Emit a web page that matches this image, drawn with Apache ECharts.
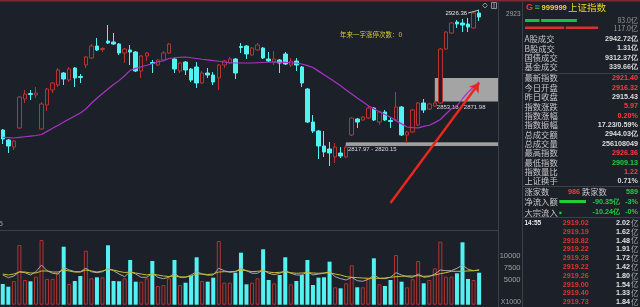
<!DOCTYPE html>
<html><head><meta charset="utf-8">
<script src="https://cdn.jsdelivr.net/npm/echarts@6/dist/echarts.min.js"></script>
<style>html,body{margin:0;padding:0;background:#1c2029;overflow:hidden}#c{width:640px;height:307px}</style>
</head><body><div id="c"></div>
<script>
// ---------- data ----------
const categories = Array.from({length: 90}, (_, i) => 'K' + (i + 1));
// [open, close, low, high]
const candles = [
[2830.4,2823.2,2819.2,2831.2],[2822.4,2817.6,2812.0,2823.2],[2816.8,2821.6,2814.4,2822.4],[2832.0,2856.8,2831.2,2857.6],
[2855.2,2859.2,2852.0,2862.4],[2859.6,2858.8,2854.4,2862.4],[2858.4,2860.0,2856.0,2864.8],[2831.2,2851.2,2830.4,2852.8],
[2850.4,2863.2,2845.6,2864.0],[2862.4,2868.0,2860.0,2868.8],[2866.4,2878.4,2864.8,2880.0],[2876.0,2871.2,2866.4,2876.8],
[2870.4,2879.2,2868.8,2880.8],[2880.0,2872.0,2864.8,2880.8],[2873.2,2872.4,2868.0,2875.2],[2882.4,2888.8,2880.0,2889.6],
[2888.0,2897.6,2887.2,2899.2],[2897.6,2894.4,2893.6,2904.0],[2894.8,2895.6,2892.8,2896.8],[2901.6,2900.0,2899.2,2914.4],
[2900.8,2899.2,2898.4,2908.0],[2899.2,2892.0,2890.4,2900.0],[2892.0,2895.2,2884.0,2896.0],[2894.4,2892.8,2882.4,2898.4],
[2892.8,2877.6,2876.8,2893.6],[2877.6,2889.6,2872.0,2890.4],[2889.6,2892.0,2885.6,2892.8],[2884.4,2883.6,2876.0,2886.4],
[2882.4,2886.4,2881.6,2887.2],[2886.4,2892.0,2885.6,2893.6],[2892.0,2899.2,2891.2,2900.0],[2887.2,2879.2,2876.0,2888.0],
[2877.6,2884.0,2876.0,2884.8],[2884.8,2878.4,2874.4,2885.6],[2879.2,2870.4,2868.8,2880.0],[2880.8,2868.0,2864.0,2884.8],
[2868.0,2876.0,2867.2,2877.6],[2876.0,2874.4,2872.0,2880.0],[2874.4,2868.8,2866.4,2876.8],[2872.0,2882.4,2862.4,2883.2],
[2882.4,2885.6,2880.0,2886.4],[2884.0,2887.2,2883.2,2888.8],[2887.2,2876.0,2871.2,2888.0],[2897.2,2896.4,2892.0,2900.0],
[2897.6,2891.2,2887.2,2898.4],[2890.4,2896.0,2889.6,2896.8],[2894.4,2898.4,2893.6,2900.0],[2896.0,2888.0,2887.2,2896.8],
[2887.2,2885.6,2884.8,2892.8],[2884.8,2887.2,2882.4,2893.6],[2886.4,2884.0,2876.0,2887.2],[2891.2,2883.2,2882.4,2892.8],
[2882.4,2885.6,2880.8,2888.0],[2885.6,2882.4,2877.6,2888.0],[2880.8,2868.0,2864.8,2881.6],[2863.2,2836.8,2836.0,2864.0],
[2836.8,2829.6,2828.0,2842.4],[2829.6,2817.6,2807.2,2830.4],[2817.6,2812.8,2808.8,2829.6],[2815.2,2812.0,2801.6,2820.8],
[2808.8,2816.8,2804.0,2820.0],[2812.0,2809.6,2808.0,2816.8],[2808.8,2816.8,2808.0,2818.4],[2826.4,2840.0,2825.6,2840.8],
[2839.2,2836.8,2832.0,2840.0],[2838.4,2840.8,2837.6,2841.6],[2840.0,2848.0,2839.2,2849.6],[2848.0,2838.4,2837.6,2848.8],
[2836.8,2844.8,2834.4,2845.6],[2844.8,2838.4,2837.6,2846.4],[2838.0,2837.2,2832.0,2840.0],[2838.4,2848.8,2837.6,2860.8],
[2848.8,2826.4,2825.6,2849.6],[2826.4,2828.8,2820.0,2829.6],[2828.8,2846.4,2828.0,2847.2],[2834.4,2852.0,2833.6,2852.8],
[2852.0,2846.4,2844.0,2855.2],[2847.2,2851.2,2846.4,2852.0],[2849.6,2852.0,2848.8,2853.6],[2852.0,2895.2,2851.2,2896.0],
[2895.2,2908.8,2894.4,2909.6],[2908.0,2916.0,2907.2,2916.8],[2916.8,2915.2,2912.0,2918.4],[2916.0,2914.4,2908.8,2919.2],
[2915.2,2912.8,2908.8,2920.0],[2912.0,2924.0,2911.2,2924.8],[2924.0,2920.8,2917.6,2926.36]
];
const priceMA = [
2824.6,2824.3,2824.0,2824.5,2825.0,2825.5,2826.0,2826.8,2829.3,2831.8,
2834.2,2836.8,2839.2,2841.6,2844.0,2847.2,2851.8,2855.8,2859.6,2863.2,
2866.8,2869.9,2873.8,2878.1,2879.7,2881.0,2882.2,2883.4,2884.9,2885.8,
2887.6,2888.2,2888.6,2888.8,2888.2,2887.6,2887.0,2886.5,2885.9,2885.4,
2884.8,2884.2,2884.0,2884.0,2884.0,2884.0,2884.2,2884.4,2884.6,2884.8,
2884.6,2884.5,2884.2,2884.0,2883.2,2881.9,2880.4,2877.5,2874.6,2871.8,
2868.8,2865.8,2862.4,2859.2,2856.0,2853.0,2849.8,2847.3,2845.0,2842.8,
2840.6,2837.9,2835.3,2832.8,2832.3,2832.1,2833.3,2834.2,2836.3,2838.8,
2843.2,2847.4,2849.8,2855.4,2860.6,2864.8,2868.8];
const volumes = [
4240,3690,4860,12240,5060,4800,5740,13260,5270,5270,
6440,11890,4240,4860,5880,11070,5410,5620,5620,12180,
4860,4800,5410,9160,4720,4720,5410,8960,3830,4040,
5410,9160,4040,4510,5880,9720,4860,4720,5540,13060,
4510,4510,6560,10660,4180,4510,5410,11360,5060,4390,
6090,9720,4180,4860,6090,9160,4040,5540,5620,8820,
3570,3360,4390,8080,3570,3570,5410,9510,4180,3830,
5060,10190,4720,3570,5210,8960,4390,5060,7460,12920,
5740,5740,6440,12790,5270,5060,6560];
const volMAShort = [
6090,5540,5880,6770,6560,6090,6770,8140,6970,6440,
6290,7670,7110,6770,6770,7460,6770,6560,6770,7460,
6970,6290,5740,6770,6290,5620,5620,6440,5620,5330,
5620,6440,5620,5620,6090,6770,6290,6030,6090,7460,
6970,6640,6770,7460,6970,6440,6440,7110,6440,6150,
6440,6970,6440,6090,6090,6770,6090,6290,6440,6770,
5740,5330,5060,5620,4920,4800,5210,6090,5410,5330,
5620,6560,6090,5740,5620,6290,5620,5740,6290,7110,
6970,6970,7460,8140,7260,6970,7110];
const volMALong = [
6290,6090,6290,6700,6700,6500,6500,6910,6910,6700,
6700,7110,6910,6700,6700,7110,6910,6700,6910,7220,
7110,6810,6600,6700,6500,6290,6090,6290,6090,5880,
5780,5880,5680,5680,5880,6290,6290,6190,6290,6700,
6770,6770,6850,7110,6970,6770,6850,6970,6700,6560,
6640,6770,6560,6440,6500,6560,6500,6440,6500,6560,
6290,6090,5740,5620,5540,5470,5410,5410,5410,5470,
5620,5740,5820,5880,5880,5950,5820,5880,6090,6360,
6560,6850,6850,6850,6910,6970,7110];
const priceTicks = [2923];
const volTicks = [5000, 7500, 10000];
const volUnit = 'X1000';
const upperZone = [2853.18, 2871.98];
const lowerZone = [2817.97, 2820.15];
const highMark = 2926.36;
const arrowFrom = [70, 2772.0];
const arrowTo = [86, 2868.0];
const noteText = '年来一字涨停次数：0';

const title = {code: '999999', name: '上证指数'};
const buySell = [83.0, 117.0];
const panelLabels = ['A股成交','B股成交','国债成交','基金成交','最新指数','今日开盘','昨日收盘','指数涨跌','指数涨幅','指数振幅','总成交额','总成交量','最高指数','最低指数','指数量比','上证换手'];
const panelValues = ['2942.72亿','1.31亿','9312.37亿','339.66亿','2921.40','2916.32','2915.43','5.97','0.20%','17.23/0.59%','2944.03亿','256108049','2926.36','2909.13','1.22','0.71%'];
const panelTones = ['n','n','n','n','u','u','n','u','u','n','n','n','u','d','u','n'];
const advDecl = [986, 589];
const flows = [['净流入额','-90.35亿','-3%'],['大宗流入','-10.24亿','-0%']];
const tickTime = '14:55';
const tickPrices = [2919.02,2919.19,2918.82,2919.22,2919.28,2919.22,2919.26,2919.00,2919.40,2919.73];
const tickAmounts = [2.02,1.62,1.48,1.91,1.72,1.42,1.80,1.54,1.33,1.84];

// ---------- styles ----------
const BG = '#1c2029', RED = '#b83232', CYAN = '#52f2f2', LINE = '#3a3f4a';
const UPC = '#ff3c3c', DNC = '#22cc44', TXT = '#dcdcdc', LBL = '#c8c8c8';
const CJK = '"Noto Sans CJK SC", sans-serif';
const NUM = '"Liberation Sans", Arial, sans-serif';

const chart = echarts.init(document.getElementById('c'), null, {renderer: 'canvas'});
const gridLeft = -1, gridW = 499.5;

const volData = volumes.map((v, i) => {
  const up = candles[i][1] >= candles[i][0];
  return {value: v, itemStyle: up ? {color: BG, borderColor: RED, borderWidth: 1} : {color: CYAN}};
});

// graphic decorations / panel
const g = [];
function txt(x, y, s, fill, font, align) {
  g.push({type: 'text', silent: true, z: 50, style: {x, y, text: s, fill, font, align: align || 'left', verticalAlign: 'middle', textAlign: align || 'left', textVerticalAlign: 'middle'}});
}
function rect(x, y, w, h, fill, stroke) {
  g.push({type: 'rect', silent: true, z: 40, shape: {x, y, width: w, height: h}, style: stroke ? {fill: 'none', stroke, lineWidth: 1} : {fill}});
}
function line(x1, y1, x2, y2, c, w) {
  g.push({type: 'line', silent: true, z: 40, shape: {x1, y1, x2, y2}, style: {stroke: c, lineWidth: w || 1}});
}
rect(0, 0, 640, 1.6, '#7a2c30');
line(498.5, 1.6, 498.5, 307, LINE);
line(522.5, 1.6, 522.5, 307, LINE);
line(0, 230.5, 498, 230.5, LINE);
line(523, 73.5, 640, 73.5, LINE);
line(523, 186.5, 640, 186.5, LINE);
line(523, 217.5, 640, 217.5, LINE);
// small icons at chart top-right
g.push({type: 'polygon', silent: true, z: 40, shape: {points: [[485, 3], [487.5, 5.5], [485, 8], [482.5, 5.5]]}, style: {fill: 'none', stroke: '#8a8f99', lineWidth: 1}});
rect(491.5, 2.5, 5, 6, null, '#8a8f99');
line(494, 2.5, 494, 8.5, '#8a8f99');
// note
txt(340, 35, noteText, '#d6cc2a', '6.5px ' + CJK);
txt(-1, 224, '5', '#a0a0a0', '7px ' + NUM);
txt(521, 302, volUnit, '#a0a0a0', '7px ' + NUM, 'right');
// title
txt(526, 7.5, 'G', '#ff3030', 'bold 9px ' + NUM);
txt(534.5, 7.5, '≡', '#48c050', 'bold 9px ' + NUM);
txt(541.5, 7.5, title.code, '#e8d820', 'bold 7.6px ' + NUM);
txt(568, 7.5, title.name, '#e8d820', '9.5px ' + CJK);
// buy/sell bars (length proportional to value)
const k = 0.625;
const gl = buySell[0] * k, rl = buySell[1] * k;
rect(525, 19, gl * 0.28, 3, '#1fbf3a'); rect(525 + gl * 0.28 + 1.6, 19, gl * 0.72 - 1.6, 3, '#1fbf3a');
rect(525, 26.5, rl * 0.535, 2.6, '#d83030'); rect(525 + rl * 0.535 + 1.6, 26.5, rl * 0.465 - 1.6, 2.6, '#d83030');
txt(638, 20, buySell[0].toFixed(1) + '亿', '#9a9a9a', '7px ' + CJK, 'right');
txt(638, 28, buySell[1].toFixed(1) + '亿', '#9a9a9a', '7px ' + CJK, 'right');
// rows
panelLabels.forEach((l, i) => {
  const y = 39 + i * 9.37 + (i >= 4 ? 1.8 : 0);
  txt(524.5, y, l, LBL, '8.3px ' + CJK);
  const c = panelTones[i] === 'u' ? UPC : panelTones[i] === 'd' ? DNC : TXT;
  txt(638, y, panelValues[i], c, 'bold 7.2px ' + NUM, 'right');
});
txt(524.5, 191.7, '涨家数', LBL, '8.3px ' + CJK);
txt(580, 191.7, String(advDecl[0]), UPC, 'bold 7.2px ' + NUM, 'right');
txt(582, 191.7, '跌家数', LBL, '8.3px ' + CJK);
txt(638, 191.7, String(advDecl[1]), DNC, 'bold 7.2px ' + NUM, 'right');
flows.forEach((f, i) => {
  const y = 202 + i * 10.5;
  txt(524.5, y, f[0], LBL, '8.3px ' + CJK);
  txt(620, y, f[1], DNC, 'bold 7.2px ' + NUM, 'right');
  txt(638, y, f[2], DNC, 'bold 7.2px ' + NUM, 'right');
});
rect(559.3, 200, 26.7, 3, '#1fcf3a');
rect(559.3, 211.7, 2.2, 2.4, '#1fcf3a');
txt(524.5, 223, tickTime, '#e8e8e8', 'bold 6.5px ' + NUM);
tickPrices.forEach((p, i) => {
  const y = 223 + i * 8.8;
  txt(588.7, y, p.toFixed(2), '#e03434', 'bold 7.2px ' + NUM, 'right');
  txt(630, y, tickAmounts[i].toFixed(2), '#e0e0e0', 'bold 7.2px ' + NUM, 'right');
  txt(638.5, y, '亿', '#a8a8a8', '7.5px ' + CJK, 'right');
});

const option = {
  backgroundColor: BG,
  animation: false,
  grid: [
    {left: gridLeft, width: gridW, top: 0, height: 228},
    {left: gridLeft, width: gridW, top: 236.41, height: 68.29}
  ],
  xAxis: [
    {type: 'category', data: categories, gridIndex: 0, show: false, boundaryGap: true},
    {type: 'category', data: categories, gridIndex: 1, show: false, boundaryGap: true}
  ],
  yAxis: [
    {type: 'value', gridIndex: 0, position: 'right', min: 2752.0, max: 2934.4, scale: true,
     axisLine: {show: false}, axisTick: {show: false}, splitLine: {show: false},
     axisLabel: {customValues: priceTicks, formatter: v => String(v), color: '#a0a0a0', fontSize: 6.5, fontFamily: NUM, align: 'right', margin: 22}},
    {type: 'value', gridIndex: 1, position: 'right', min: 0, max: 14000,
     axisLine: {show: false}, axisTick: {show: false}, splitLine: {show: false},
     axisLabel: {customValues: volTicks, formatter: v => String(v), color: '#a0a0a0', fontSize: 7.5, fontFamily: NUM, align: 'right', margin: 22}}
  ],
  series: [
    {
      type: 'candlestick', xAxisIndex: 0, yAxisIndex: 0, data: candles, barWidth: 4,
      itemStyle: {color: BG, color0: CYAN, borderColor: RED, borderColor0: CYAN, borderWidth: 1},
      markArea: {
        silent: true,
        data: [
          [{xAxis: categories[78], yAxis: upperZone[1], itemStyle: {color: '#a4a4a4'},
            label: {show: true, position: [2, 26], formatter: upperZone[0].toFixed(2) + ' - ' + upperZone[1].toFixed(2), color: '#dcdcdc', fontSize: 6, fontFamily: NUM}},
           {yAxis: upperZone[0]}],
          [{xAxis: categories[62], yAxis: lowerZone[1], itemStyle: {color: '#9c9c9c', borderColor: '#c8c8c8', borderWidth: 0.6},
            label: {show: true, position: [2, 4], formatter: lowerZone[0].toFixed(2) + ' - ' + lowerZone[1].toFixed(2), color: '#dcdcdc', fontSize: 6, fontFamily: NUM}},
           {yAxis: lowerZone[0]}]
        ]
      },
      markPoint: {
        silent: true, symbol: 'circle', symbolSize: 0,
        data: [{coord: [categories[86], highMark], value: highMark}],
        label: {show: true, position: 'left', distance: 12, offset: [0, 3], formatter: highMark.toFixed(2), color: '#e6e6e6', fontSize: 6, fontFamily: NUM}
      },
      markLine: {
        silent: true, symbol: ['none', 'none'], label: {show: false},
        data: [
          [{coord: [categories[arrowFrom[0]], arrowFrom[1]], symbol: 'none', lineStyle: {color: '#e8281c', width: 2.4, type: 'solid'}},
           {coord: [categories[arrowTo[0]], arrowTo[1]], symbol: 'arrow', symbolSize: 9}],
          [{coord: [categories[84], 2924.0], symbol: 'none', lineStyle: {color: '#c8c8c8', width: 1, type: 'solid'}},
           {coord: [categories[86], highMark], symbol: 'none'}]
        ]
      }
    },
    {type: 'line', xAxisIndex: 0, yAxisIndex: 0, data: priceMA, symbol: 'none', lineStyle: {color: '#a834c4', width: 1.2}, z: 3},
    {type: 'bar', xAxisIndex: 1, yAxisIndex: 1, data: volData, barWidth: 4},
    {type: 'line', xAxisIndex: 1, yAxisIndex: 1, data: volMAShort, symbol: 'none', lineStyle: {color: '#a9a9b0', width: 1}, z: 3},
    {type: 'line', xAxisIndex: 1, yAxisIndex: 1, data: volMALong, symbol: 'none', lineStyle: {color: '#c8bf2a', width: 1}, z: 3}
  ],
  graphic: g
};
chart.setOption(option);
</script>
</body></html>
